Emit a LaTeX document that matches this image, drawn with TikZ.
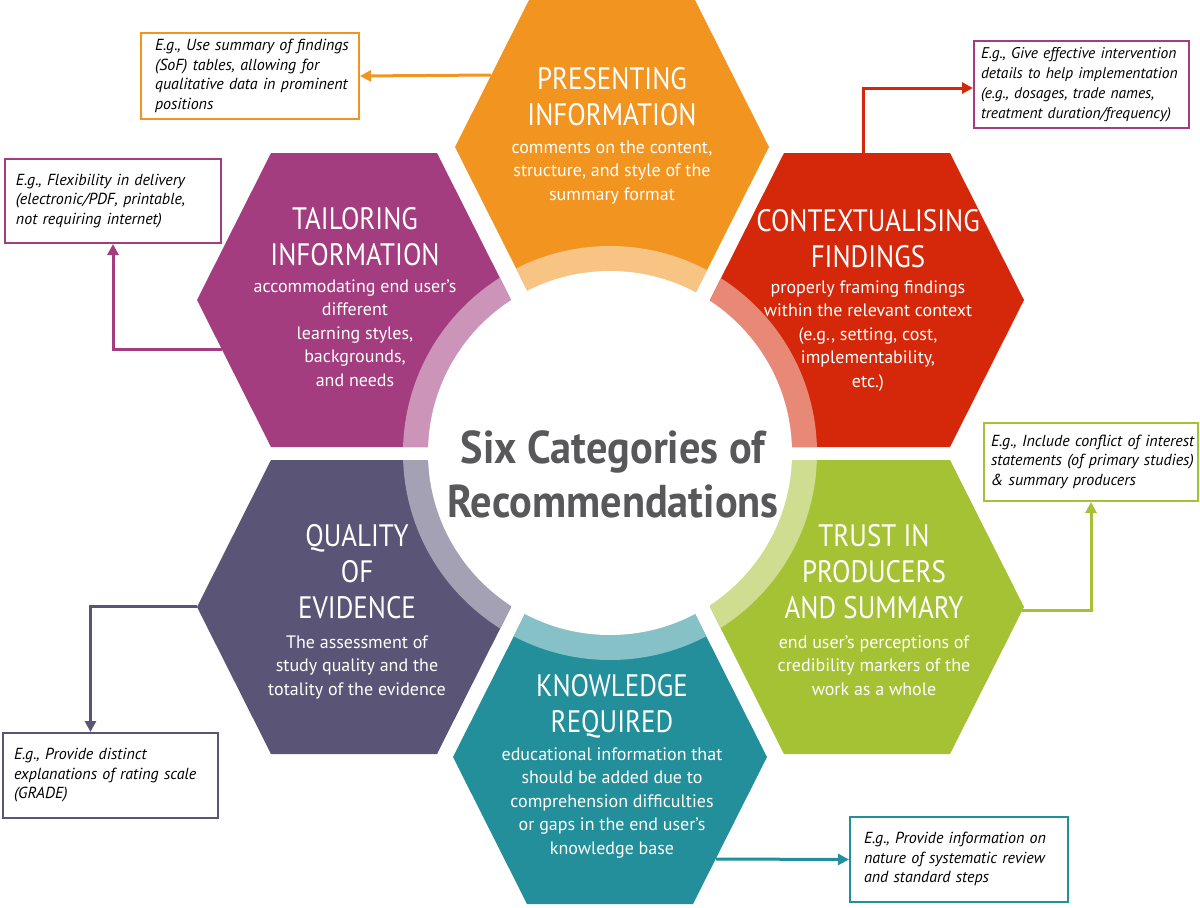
\documentclass[tikz,border=0pt]{standalone}
\usepackage{fontspec}
\setmainfont{PT Sans}
\newfontfamily\headfont[FakeStretch=0.87]{PT Sans}
\newfontfamily\hubfont[FakeStretch=0.92]{PT Sans}
\usetikzlibrary{arrows.meta}

\definecolor{cOrange}{HTML}{F29420}
\definecolor{cRed}{HTML}{D5280A}
\definecolor{cPurple}{HTML}{A33D7F}
\definecolor{cSlate}{HTML}{5A5577}
\definecolor{cGreen}{HTML}{A5C235}
\definecolor{cTeal}{HTML}{238F9A}
\definecolor{cHub}{HTML}{58585A}

\newcommand\eglines[1]{\begin{tabular}{@{}l@{}}#1\end{tabular}}

\tikzset{
  hextitle/.style={white, font=\headfont\fontsize{31}{36}\selectfont, align=center, anchor=base, inner sep=0pt},
  hexbody/.style={white, font=\fontsize{18}{23.5}\selectfont, align=center, anchor=base, inner sep=0pt},
  egbox/.style={draw=#1, line width=2pt, fill=white, anchor=north west, align=left, inner ysep=3pt, font=\itshape\fontsize{16}{19.5}\selectfont},
  link/.style={draw=#1, line width=3pt, -{Triangle[length=11pt,width=11pt]}}
}

\begin{document}
\begin{tikzpicture}[x=1pt, y=-1pt]
\useasboundingbox (0,0) rectangle (1200,908);

% honeycomb with tinted ring
\foreach \n/\x/\y/\c in {pres/612/147/cOrange, tail/354/300/cPurple, ctx/867/300/cRed,
                         qual/354/607/cSlate, trust/867/607/cGreen, know/610/757/cTeal} {
  \coordinate (\n) at (\x,\y);
  \fill[\c] (\x,\y) ++(-157,0) -- ++(74,-147) -- ++(166,0) -- ++(74,147) -- ++(-74,147) -- ++(-166,0) -- cycle;
  \begin{scope}
    \clip (\x,\y) ++(-157,0) -- ++(74,-147) -- ++(166,0) -- ++(74,147) -- ++(-74,147) -- ++(-166,0) -- cycle;
    \fill[\c!55!white] (610,453) circle (207pt);
  \end{scope}
}
\fill[white] (610,453) circle (182pt);
\node (hub) at (613,517) [anchor=base, align=center, inner sep=0pt, text=cHub,
  font=\hubfont\bfseries\fontsize{46}{54}\selectfont] {Six Categories of\\Recommendations};

% titles and descriptions (anchored at the last baseline)
\node (presT) at (612,125) [hextitle] {PRESENTING\\INFORMATION};
\node (presB) at (612,200) [hexbody] {comments on the content,\\structure, and style of the\\summary format};
\node (tailT) at (355,265) [hextitle] {TAILORING\\INFORMATION};
\node (tailB) at (355,386) [hexbody] {accommodating end user's\\different\\learning styles,\\backgrounds,\\and needs};
\node (ctxT) at (868,267) [hextitle] {CONTEXTUALISING\\FINDINGS};
\node (ctxB) at (868,387) [hexbody] {properly framing findings\\within the relevant context\\(e.g., setting, cost,\\implementability,\\etc.)};
\node (qualT) at (357,618) [hextitle] {QUALITY\\OF\\EVIDENCE};
\node (qualB) at (357,695) [hexbody] {The assessment of\\study quality and the\\totality of the evidence};
\node (trustT) at (874,618) [hextitle] {TRUST IN\\PRODUCERS\\AND SUMMARY};
\node (trustB) at (874,695) [hexbody] {end user's perceptions of\\credibility markers of the\\work as a whole};
\node (knowT) at (612,732) [hextitle] {KNOWLEDGE\\REQUIRED};
\node (knowB) at (612,854) [hexbody] {educational information that\\should be added due to\\comprehension difficulties\\or gaps in the end user's\\knowledge base};

% example boxes
\node (egPres) at (140,32) [egbox=cOrange, inner xsep=14pt, text width=190pt, minimum height=86pt]
  {\eglines{E.g., Use summary of findings\\(SoF) tables, allowing for\\qualitative data in prominent\\positions}};
\node (egCtx) at (973,40) [egbox=cPurple, inner xsep=7pt, text width=201pt, minimum height=87pt,
  font=\itshape\fontsize{15.5}{20}\selectfont]
  {\eglines{E.g., Give effective intervention\\details to help implementation\\(e.g., dosages, trade names,\\treatment duration/frequency)}};
\node (egTail) at (4,158) [egbox=cPurple, inner xsep=11pt, text width=194pt, minimum height=84pt]
  {\eglines{E.g., Flexibility in delivery\\(electronic/PDF, printable,\\not requiring internet)}};
\node (egTrust) at (983,422) [egbox=cGreen, inner xsep=7pt, text width=200pt, minimum height=78pt]
  {\eglines{E.g., Include conflict of interest\\statements (of primary studies)\\\& summary producers}};
\node (egQual) at (2,732) [egbox=cSlate, inner xsep=11pt, text width=193pt, minimum height=85pt]
  {\eglines{E.g., Provide distinct\\explanations of rating scale\\(GRADE)}};
\node (egKnow) at (849,816) [egbox=cTeal, inner xsep=14pt, text width=190pt, minimum height=85pt]
  {\eglines{E.g., Provide information on\\nature of systematic review\\and standard steps}};

% connectors
\coordinate (pPres) at (491,75);
\coordinate (pCtx) at (863,153);
\coordinate (pTail) at (222,349);
\coordinate (pTrust) at (1022,610);
\coordinate (pQual) at (197,606);
\coordinate (pKnow) at (716,859);
\draw[link=cOrange] (pPres) -- (egPres.east);
\draw[link=cRed] (pCtx) |- ([yshift=-3.5pt]egCtx.west);
\draw[link=cPurple] (pTail) -| (egTail.south);
\draw[link=cGreen] (pTrust) -| (egTrust.south);
\draw[link=cSlate] (pQual) -| ([xshift=-20pt]egQual.north);
\draw[link=cTeal] (pKnow) -- (egKnow.west);
\end{tikzpicture}
\end{document}
